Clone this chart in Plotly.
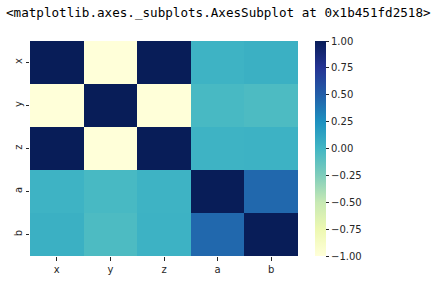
import plotly.graph_objects as go

labels = ["x", "y", "z", "a", "b"]
row_x = [1.00, -1.00, 1.00, 0.02, 0.04]
row_y = [-1.00, 1.00, -1.00, -0.03, -0.05]
row_z = [1.00, -1.00, 1.00, 0.02, 0.03]
row_a = [0.02, -0.03, 0.02, 1.00, 0.45]
row_b = [0.04, -0.05, 0.03, 0.45, 1.00]
cbar_ticks = [-1.0, -0.75, -0.5, -0.25, 0.0, 0.25, 0.5, 0.75, 1.0]
title_text = "<matplotlib.axes._subplots.AxesSubplot at 0x1b451fd2518>"

ylgnbu = ["#ffffd9", "#edf8b1", "#c7e9b4", "#7fcdbb", "#41b6c4",
          "#1d91c0", "#225ea8", "#253494", "#081d58"]
cs = [[i / (len(ylgnbu) - 1), c] for i, c in enumerate(ylgnbu)]

def fmt(v):
    s = f"{v:.2f}"
    return s.replace("-", "\u2212")

fig = go.Figure(go.Heatmap(
    z=[row_x, row_y, row_z, row_a, row_b],
    x=labels, y=labels,
    zmin=-1, zmax=1,
    colorscale=cs,
    colorbar=dict(
        x=1.0634, xanchor="left", xpad=0, ypad=0,
        y=0.5, yanchor="middle", len=1, lenmode="fraction",
        thickness=11, outlinewidth=0,
        tickvals=cbar_ticks, ticktext=[fmt(v) for v in cbar_ticks],
        ticks="outside", ticklen=3.5, tickwidth=0.8, tickcolor="#262626",
        tickfont=dict(family="DejaVu Sans", size=10, color="#262626"),
    ),
))

fig.update_layout(
    width=445, height=287,
    margin=dict(l=30, r=147, t=41, b=28),
    paper_bgcolor="white", plot_bgcolor="white",
    xaxis=dict(ticks="outside", ticklen=3.5, tickwidth=0.8, tickcolor="#262626",
               tickfont=dict(family="DejaVu Sans", size=10, color="#262626"),
               showgrid=False, zeroline=False, showline=False),
    yaxis=dict(autorange="reversed", ticks="outside", ticklen=3.5, tickwidth=0.8,
               tickcolor="#262626", tickangle=-90,
               tickfont=dict(family="DejaVu Sans", size=10, color="#262626"),
               showgrid=False, zeroline=False, showline=False),
    annotations=[dict(text=title_text, xref="paper", yref="paper",
                      x=-26/268, y=1 + 29/218, xanchor="left", yanchor="middle",
                      showarrow=False,
                      font=dict(family="DejaVu Sans Mono", size=12.6, color="#000000"))],
)

fig.write_html("out.html")
